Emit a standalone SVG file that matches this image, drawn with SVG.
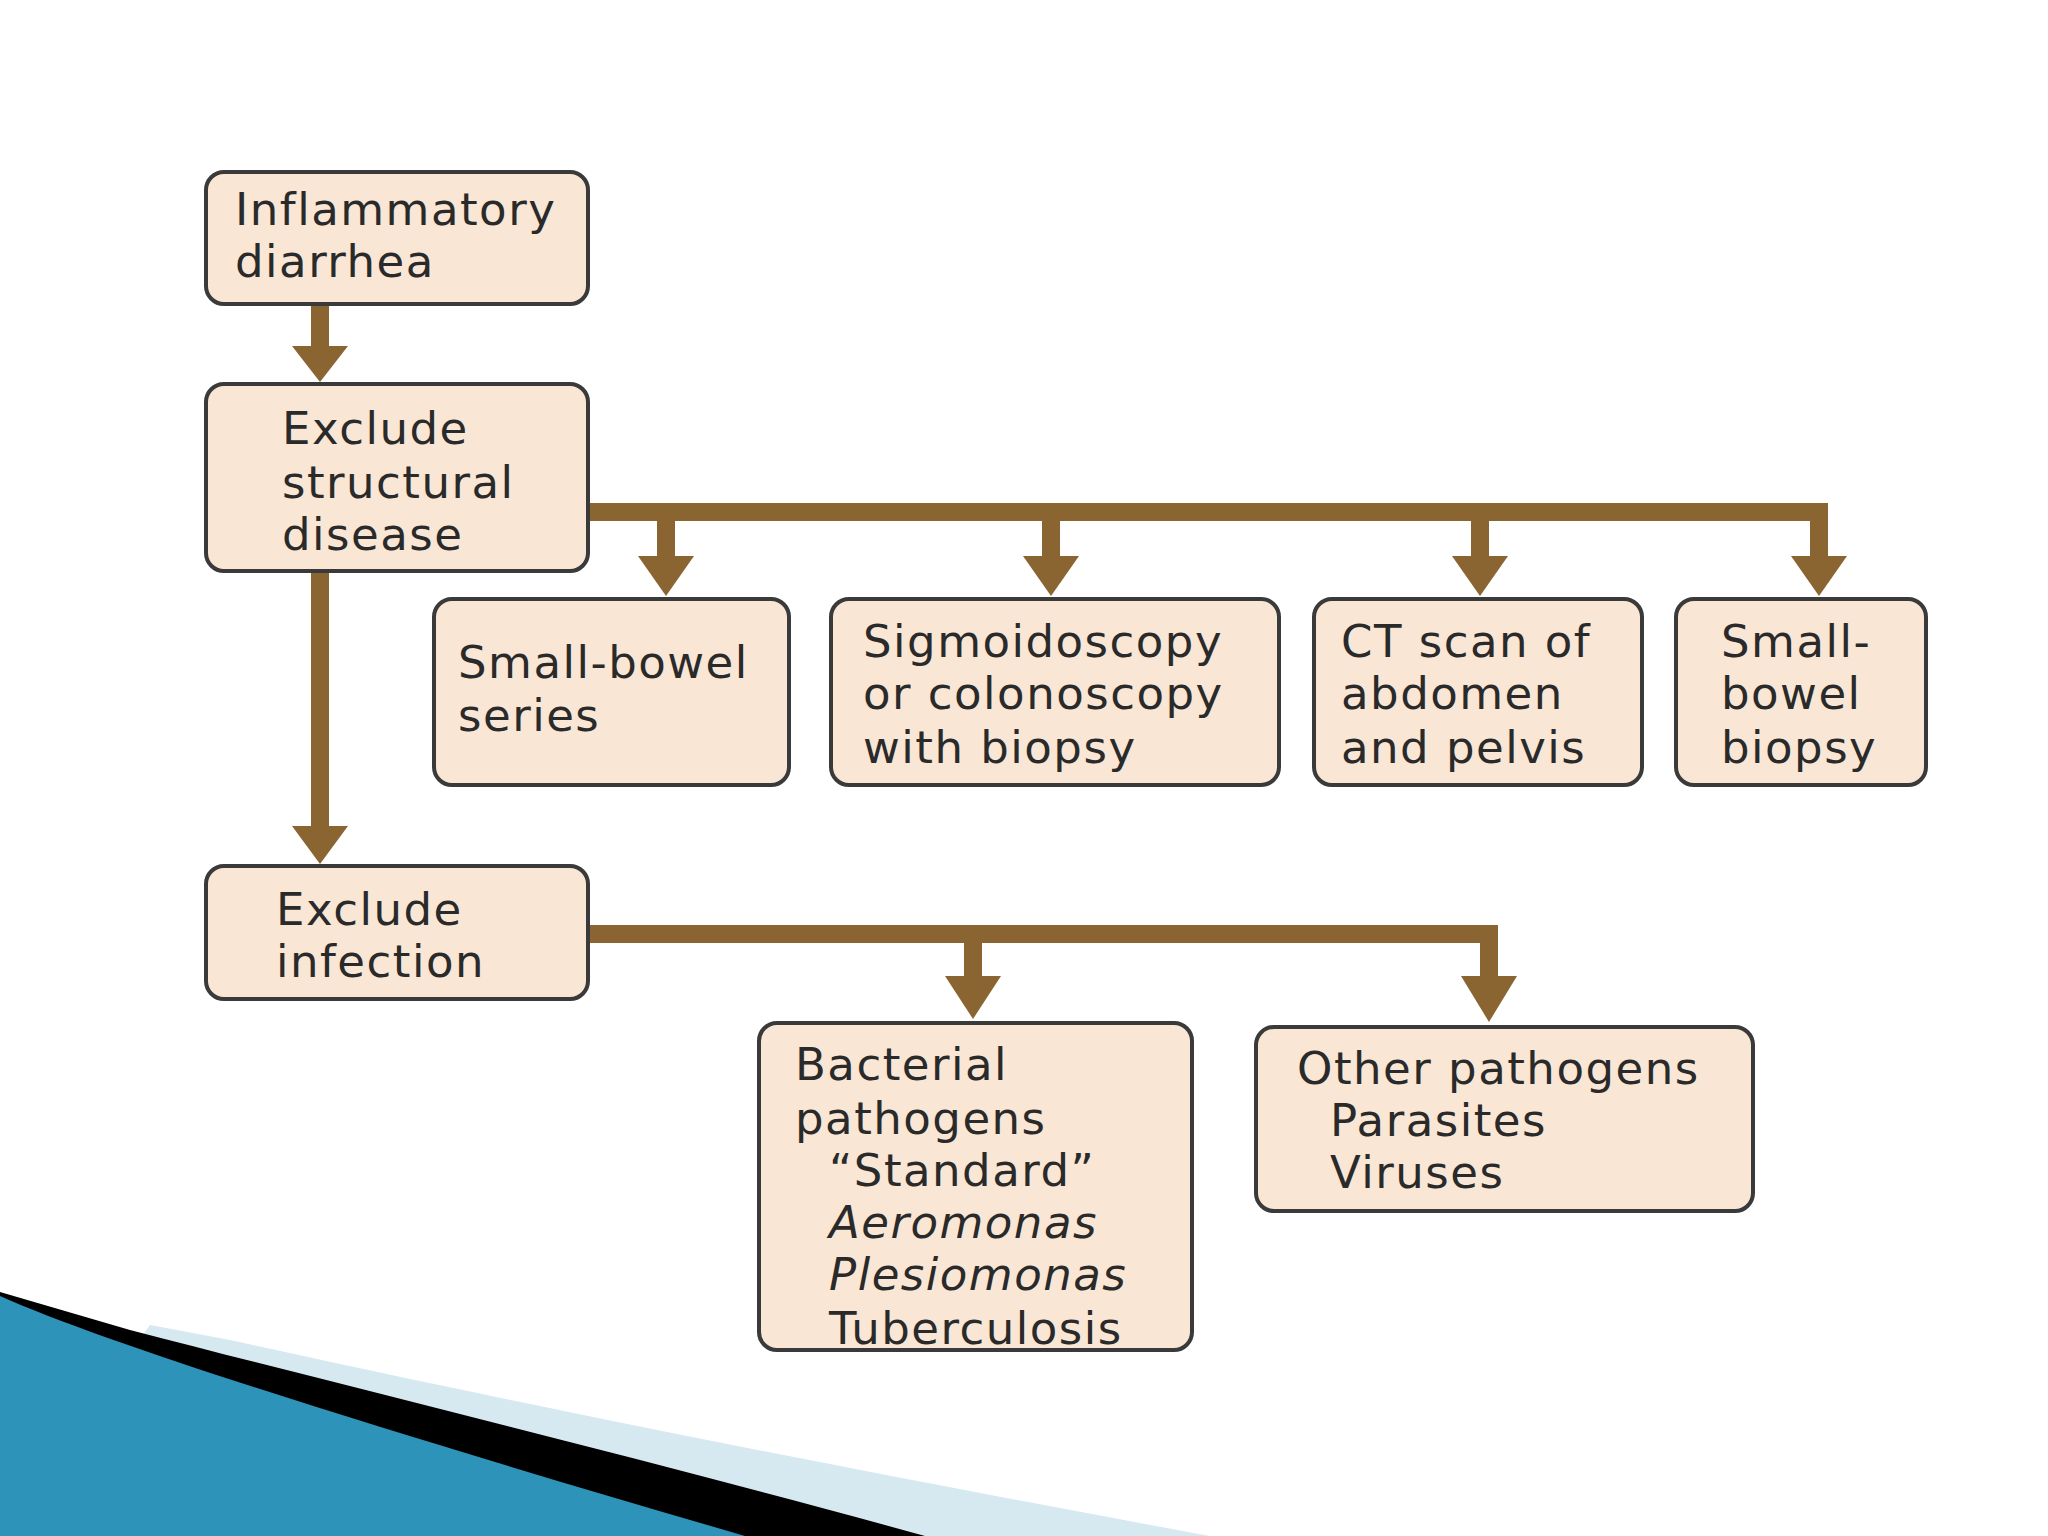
<svg xmlns="http://www.w3.org/2000/svg" width="2048" height="1536" viewBox="0 0 2048 1536">
<style>
.b{fill:#f9e6d5;stroke:#3a3a3a;stroke-width:4}
text{font-family:"DejaVu Sans",Arial,sans-serif;font-size:45px;letter-spacing:1.5px;fill:#2a2a2a}
.c{fill:none;stroke:#8a6431;stroke-width:18}
.h{fill:#8a6431}
</style>
<rect width="2048" height="1536" fill="#fff"/>
<g id="deco">
<path d="M150,1325 L230,1340 C500,1400 850,1470 1210,1536 L0,1536 Z" fill="#d6e8f0"/>
<path d="M0,1292 L130,1330 C400,1400 650,1460 925,1536 L0,1536 Z" fill="#000"/>
<path d="M0,1296 C120,1350 450,1450 745,1536 L0,1536 Z" fill="#2d93b8"/>
</g>
<g id="connectors">
<path class="c" d="M320,304 V350"/><polygon class="h" points="292,346 348,346 320,382"/>
<path class="c" d="M320,571 V830"/><polygon class="h" points="292,826 348,826 320,864"/>
<path class="c" d="M588,512 H1819 V560 M666,512 V560 M1051,512 V560 M1480,512 V560"/>
<polygon class="h" points="638,556 694,556 666,596"/>
<polygon class="h" points="1023,556 1079,556 1051,596"/>
<polygon class="h" points="1452,556 1508,556 1480,596"/>
<polygon class="h" points="1791,556 1847,556 1819,596"/>
<path class="c" d="M588,934 H1489 V980 M973,934 V980"/>
<polygon class="h" points="945,976 1001,976 973,1019"/>
<polygon class="h" points="1461,976 1517,976 1489,1022"/>
</g>
<g id="n1"><rect class="b" x="206" y="172" width="382" height="132" rx="18"/><text x="235" y="225">Inflammatory</text><text x="235" y="277">diarrhea</text></g>
<g id="n2"><rect class="b" x="206" y="384" width="382" height="187" rx="18"/><text x="282" y="444">Exclude</text><text x="282" y="498">structural</text><text x="282" y="550">disease</text></g>
<g id="n3"><rect class="b" x="434" y="599" width="355" height="186" rx="18"/><text x="458" y="678">Small-bowel</text><text x="458" y="731">series</text></g>
<g id="n4"><rect class="b" x="831" y="599" width="448" height="186" rx="18"/><text x="863" y="657">Sigmoidoscopy</text><text x="863" y="709">or colonoscopy</text><text x="863" y="763">with biopsy</text></g>
<g id="n5"><rect class="b" x="1314" y="599" width="328" height="186" rx="18"/><text x="1341" y="657">CT scan of</text><text x="1341" y="709">abdomen</text><text x="1341" y="763">and pelvis</text></g>
<g id="n6"><rect class="b" x="1676" y="599" width="250" height="186" rx="18"/><text x="1721" y="657">Small-</text><text x="1721" y="709">bowel</text><text x="1721" y="763">biopsy</text></g>
<g id="n7"><rect class="b" x="206" y="866" width="382" height="133" rx="18"/><text x="276" y="925">Exclude</text><text x="276" y="977">infection</text></g>
<g id="n8"><rect class="b" x="759" y="1023" width="433" height="327" rx="18"/><text x="795" y="1080">Bacterial</text><text x="795" y="1134">pathogens</text><text x="829" y="1186">“Standard”</text><text x="829" y="1238" font-style="italic">Aeromonas</text><text x="829" y="1290" font-style="italic">Plesiomonas</text><text x="829" y="1344">Tuberculosis</text></g>
<g id="n9"><rect class="b" x="1256" y="1027" width="497" height="184" rx="18"/><text x="1297" y="1084">Other pathogens</text><text x="1330" y="1136">Parasites</text><text x="1330" y="1188">Viruses</text></g>
</svg>
